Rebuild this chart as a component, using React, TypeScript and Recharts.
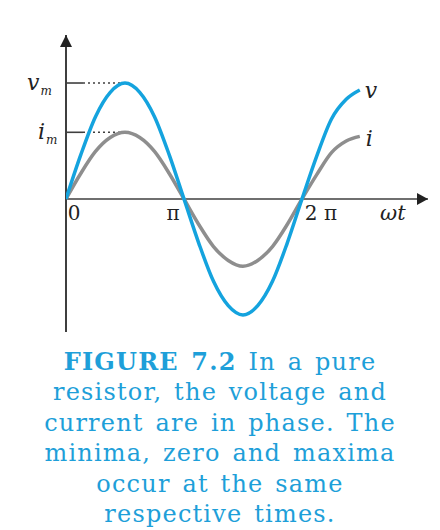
import React from "react";
import {
  LineChart,
  Line,
  XAxis,
  YAxis,
  ReferenceLine,
  ReferenceDot,
} from "recharts";

// phase in units of pi, values normalised to v_m = 1
const phase = [
  0, 0.125, 0.25, 0.375, 0.5, 0.625, 0.75, 0.875, 1, 1.125, 1.25, 1.375, 1.5,
  1.625, 1.75, 1.875, 2, 2.125, 2.25, 2.375, 2.49,
];
const voltage = [
  0, 0.38, 0.71, 0.92, 1.0, 0.92, 0.71, 0.38, 0, -0.38, -0.71, -0.92, -1.0,
  -0.92, -0.71, -0.38, 0, 0.37, 0.69, 0.86, 0.94,
];
const current = [
  0, 0.22, 0.41, 0.53, 0.575, 0.53, 0.41, 0.22, 0, -0.22, -0.41, -0.53, -0.58,
  -0.53, -0.41, -0.22, 0, 0.21, 0.4, 0.5, 0.54,
];

const xTicks = [0, 1, 2];
const xTickLabels = ["0", "π", "2 π"];
const peakLevels = [1, 0.575];
const peakLabels = ["v", "i"];

const BLUE = "#14a3de";
const GRAY = "#8e8e8e";
const AXIS = "#3f3f3f";
const TEXT_BLUE = "#1e9fd9";
const MATH_FONT = "'DejaVu Serif', serif";

const data = phase.map((p, k) => ({ p, v: voltage[k], i: current[k] }));

const xLabelOffset = [8, -11, 19];

const App = () => {
  return (
    <div style={{ position: "absolute", left: 0, top: 0, width: 440, height: 530, background: "#fff" }}>
      <LineChart
        width={440}
        height={340}
        data={data}
        margin={{ top: 35, right: 12, bottom: 8, left: 0 }}
      >
        <XAxis
          type="number"
          dataKey="p"
          domain={[0, 3.068]}
          allowDataOverflow
          hide
        />
        <YAxis
          type="number"
          width={66}
          domain={[-1.147, 1.414]}
          allowDataOverflow
          ticks={peakLevels}
          axisLine={false}
          tickLine={false}
          tick={(props: any) => {
            const k = peakLevels.indexOf(props.payload.value);
            return (
              <text
                x={k === 0 ? 27 : 38}
                y={props.y + 7}
                fontFamily={MATH_FONT}
                fontStyle="italic"
                fontSize={22}
                fill="#222"
              >
                {peakLabels[k]}
                <tspan fontSize={12} dx={1} dy={5}>
                  m
                </tspan>
              </text>
            );
          }}
        />

        <ReferenceLine x={0} stroke={AXIS} strokeWidth={2} />
        <ReferenceLine y={0} stroke={AXIS} strokeWidth={1.6} />

        {peakLevels.map((lv) => (
          <ReferenceLine
            key={"s" + lv}
            segment={[
              { x: 0, y: lv },
              { x: 0.144, y: lv },
            ]}
            stroke={AXIS}
            strokeWidth={1.6}
          />
        ))}
        {peakLevels.map((lv) => (
          <ReferenceLine
            key={"d" + lv}
            segment={[
              { x: 0.144, y: lv },
              { x: 0.5, y: lv },
            ]}
            stroke={AXIS}
            strokeWidth={1.6}
            strokeDasharray="2 3"
          />
        ))}

        <ReferenceDot
          x={0}
          y={1.414}
          r={1}
          shape={(p: any) => (
            <polygon
              points={`${p.cx},${p.cy} ${p.cx - 6},${p.cy + 12} ${p.cx + 6},${p.cy + 12}`}
              fill="#222"
            />
          )}
        />
        <ReferenceDot
          x={3.068}
          y={0}
          r={1}
          shape={(p: any) => (
            <polygon
              points={`${p.cx},${p.cy} ${p.cx - 11},${p.cy - 6} ${p.cx - 11},${p.cy + 6}`}
              fill="#222"
            />
          )}
        />

        {xTicks.map((t, k) => (
          <ReferenceDot
            key={"t" + t}
            x={t}
            y={0}
            r={1}
            shape={(p: any) => (
              <text
                x={p.cx + xLabelOffset[k]}
                y={p.cy + 21}
                textAnchor="middle"
                fontFamily={MATH_FONT}
                fontSize={20}
                fill="#222"
              >
                {xTickLabels[k]}
              </text>
            )}
          />
        ))}
        <ReferenceDot
          x={2.77}
          y={0}
          r={1}
          shape={(p: any) => (
            <text
              x={p.cx}
              y={p.cy + 21}
              textAnchor="middle"
              fontFamily={MATH_FONT}
              fontStyle="italic"
              fontSize={21}
              fill="#222"
            >
              ωt
            </text>
          )}
        />

        <Line
          type="monotone"
          dataKey="i"
          stroke={GRAY}
          strokeWidth={3.5}
          dot={false}
          isAnimationActive={false}
        />
        <Line
          type="monotone"
          dataKey="v"
          stroke={BLUE}
          strokeWidth={3.5}
          dot={false}
          isAnimationActive={false}
        />

        <ReferenceDot
          x={2.49}
          y={0.94}
          r={1}
          shape={(p: any) => (
            <text
              x={p.cx + 5}
              y={p.cy + 8}
              fontFamily={MATH_FONT}
              fontStyle="italic"
              fontSize={22}
              fill="#222"
            >
              v
            </text>
          )}
        />
        <ReferenceDot
          x={2.49}
          y={0.54}
          r={1}
          shape={(p: any) => (
            <text
              x={p.cx + 6}
              y={p.cy + 10}
              fontFamily={MATH_FONT}
              fontStyle="italic"
              fontSize={22}
              fill="#222"
            >
              i
            </text>
          )}
        />
      </LineChart>

      <div
        style={{
          position: "absolute",
          left: 0,
          top: 347,
          width: 440,
          textAlign: "center",
          fontFamily: MATH_FONT,
          fontSize: 24,
          letterSpacing: "1.2px",
          wordSpacing: "3px",
          lineHeight: "30.4px",
          color: TEXT_BLUE,
          whiteSpace: "nowrap",
        }}
      >
        <b>FIGURE 7.2</b> In a pure
        <br />
        resistor, the voltage and
        <br />
        current are in phase. The
        <br />
        minima, zero and maxima
        <br />
        occur at the same
        <br />
        respective times.
      </div>
    </div>
  );
};

export default App;
